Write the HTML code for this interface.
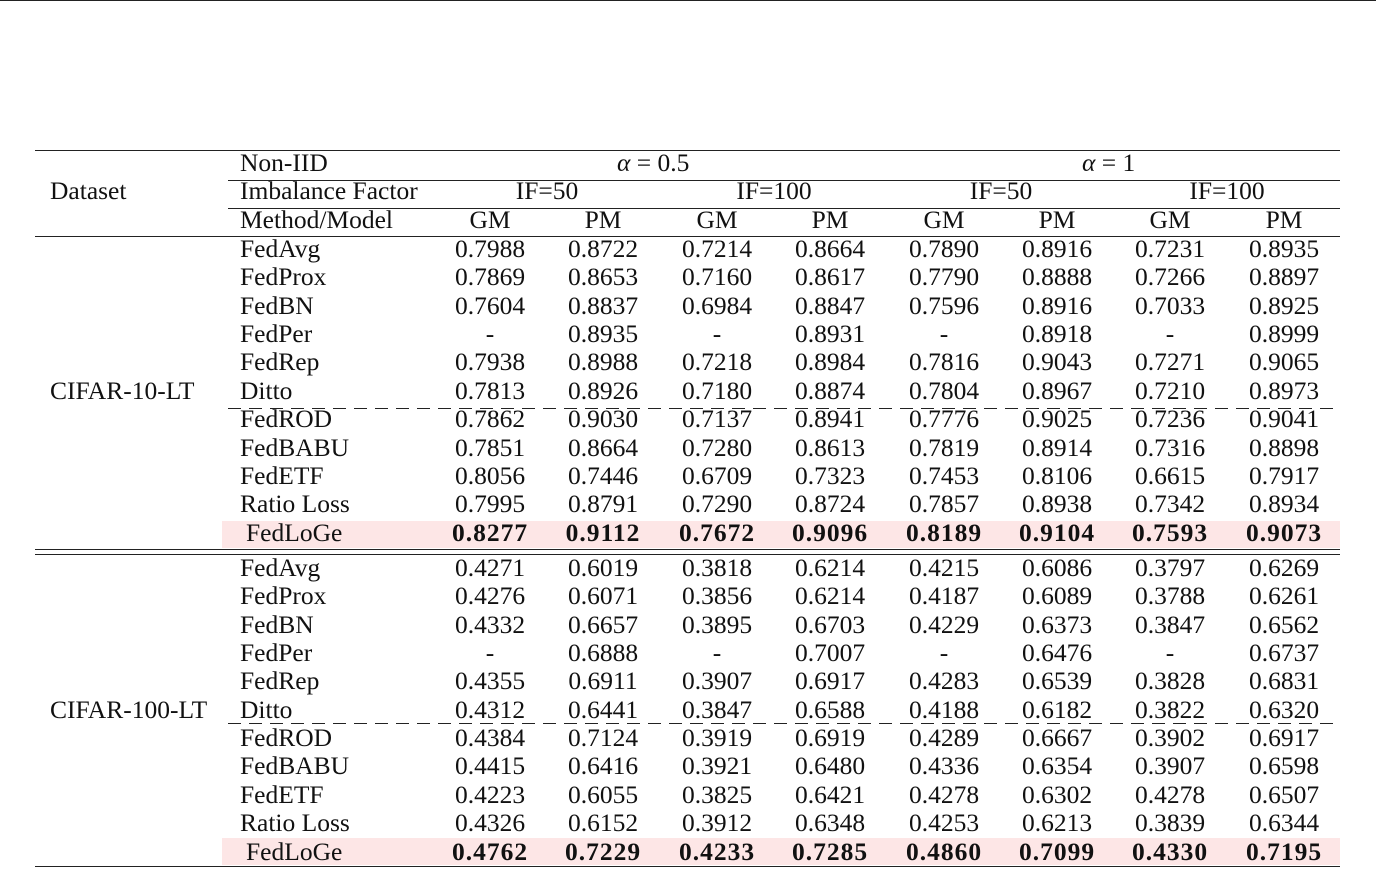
<!DOCTYPE html>
<html><head><meta charset="utf-8"><style>
body{margin:0;width:1376px;height:871px;background:#fff;position:relative;overflow:hidden;font-family:"Liberation Serif",serif;font-size:25.5px;color:#111}
.h{position:absolute;height:1.3px;background:#222}
.d{position:absolute;height:1.3px;background:repeating-linear-gradient(to right,#222 0 13px,transparent 13px 21px)}
.r{position:absolute;left:0;height:28px;line-height:28px;width:1376px;white-space:nowrap}
.r span{position:absolute;top:0}
.m{left:240px}
.c{width:114px;text-align:center}
.b .c{font-weight:bold;letter-spacing:1px}
.pink{position:absolute;background:#fde6e6}
</style></head><body>
<div class="h" style="left:0;top:0;width:1376px"></div>
<div class="pink" style="left:222px;top:521px;width:1118px;height:27px"></div>
<div class="pink" style="left:222px;top:838px;width:1118px;height:27px"></div>
<div class="h" style="left:35px;top:150px;width:1305px"></div>
<div class="h" style="left:228px;top:180px;width:1112px"></div>
<div class="h" style="left:228px;top:208px;width:1112px"></div>
<div class="h" style="left:35px;top:236px;width:1305px"></div>
<div class="d" style="left:228px;top:408px;width:1112px"></div>
<div class="h" style="left:35px;top:549px;width:1305px"></div>
<div class="h" style="left:35px;top:554px;width:1305px"></div>
<div class="d" style="left:228px;top:723px;width:1112px"></div>
<div class="h" style="left:35px;top:866px;width:1305px"></div>

<div class="r" style="top:149px"><span class="m">Non-IID</span><span style="left:617px"><i>α</i> = 0.5</span><span style="left:1082px"><i>α</i> = 1</span></div>
<div class="r" style="top:177px"><span style="left:50px">Dataset</span><span class="m">Imbalance Factor</span><span class="c" style="left:490px">IF=50</span><span class="c" style="left:717px">IF=100</span><span class="c" style="left:944px">IF=50</span><span class="c" style="left:1170px">IF=100</span></div>
<div class="r" style="top:206px"><span class="m">Method/Model</span>
<span class="c" style="left:433px">GM</span><span class="c" style="left:546px">PM</span><span class="c" style="left:660px">GM</span><span class="c" style="left:773px">PM</span><span class="c" style="left:887px">GM</span><span class="c" style="left:1000px">PM</span><span class="c" style="left:1113px">GM</span><span class="c" style="left:1227px">PM</span></div>

<div class="r" style="top:377px"><span style="left:50px">CIFAR-10-LT</span></div>
<div class="r" style="top:696px"><span style="left:50px">CIFAR-100-LT</span></div>

<div class="r" style="top:235px"><span class="m">FedAvg</span><span class="c" style="left:433px">0.7988</span><span class="c" style="left:546px">0.8722</span><span class="c" style="left:660px">0.7214</span><span class="c" style="left:773px">0.8664</span><span class="c" style="left:887px">0.7890</span><span class="c" style="left:1000px">0.8916</span><span class="c" style="left:1113px">0.7231</span><span class="c" style="left:1227px">0.8935</span></div>
<div class="r" style="top:263px"><span class="m">FedProx</span><span class="c" style="left:433px">0.7869</span><span class="c" style="left:546px">0.8653</span><span class="c" style="left:660px">0.7160</span><span class="c" style="left:773px">0.8617</span><span class="c" style="left:887px">0.7790</span><span class="c" style="left:1000px">0.8888</span><span class="c" style="left:1113px">0.7266</span><span class="c" style="left:1227px">0.8897</span></div>
<div class="r" style="top:292px"><span class="m">FedBN</span><span class="c" style="left:433px">0.7604</span><span class="c" style="left:546px">0.8837</span><span class="c" style="left:660px">0.6984</span><span class="c" style="left:773px">0.8847</span><span class="c" style="left:887px">0.7596</span><span class="c" style="left:1000px">0.8916</span><span class="c" style="left:1113px">0.7033</span><span class="c" style="left:1227px">0.8925</span></div>
<div class="r" style="top:320px"><span class="m">FedPer</span><span class="c" style="left:433px">-</span><span class="c" style="left:546px">0.8935</span><span class="c" style="left:660px">-</span><span class="c" style="left:773px">0.8931</span><span class="c" style="left:887px">-</span><span class="c" style="left:1000px">0.8918</span><span class="c" style="left:1113px">-</span><span class="c" style="left:1227px">0.8999</span></div>
<div class="r" style="top:348px"><span class="m">FedRep</span><span class="c" style="left:433px">0.7938</span><span class="c" style="left:546px">0.8988</span><span class="c" style="left:660px">0.7218</span><span class="c" style="left:773px">0.8984</span><span class="c" style="left:887px">0.7816</span><span class="c" style="left:1000px">0.9043</span><span class="c" style="left:1113px">0.7271</span><span class="c" style="left:1227px">0.9065</span></div>
<div class="r" style="top:377px"><span class="m">Ditto</span><span class="c" style="left:433px">0.7813</span><span class="c" style="left:546px">0.8926</span><span class="c" style="left:660px">0.7180</span><span class="c" style="left:773px">0.8874</span><span class="c" style="left:887px">0.7804</span><span class="c" style="left:1000px">0.8967</span><span class="c" style="left:1113px">0.7210</span><span class="c" style="left:1227px">0.8973</span></div>
<div class="r" style="top:405px"><span class="m">FedROD</span><span class="c" style="left:433px">0.7862</span><span class="c" style="left:546px">0.9030</span><span class="c" style="left:660px">0.7137</span><span class="c" style="left:773px">0.8941</span><span class="c" style="left:887px">0.7776</span><span class="c" style="left:1000px">0.9025</span><span class="c" style="left:1113px">0.7236</span><span class="c" style="left:1227px">0.9041</span></div>
<div class="r" style="top:434px"><span class="m">FedBABU</span><span class="c" style="left:433px">0.7851</span><span class="c" style="left:546px">0.8664</span><span class="c" style="left:660px">0.7280</span><span class="c" style="left:773px">0.8613</span><span class="c" style="left:887px">0.7819</span><span class="c" style="left:1000px">0.8914</span><span class="c" style="left:1113px">0.7316</span><span class="c" style="left:1227px">0.8898</span></div>
<div class="r" style="top:462px"><span class="m">FedETF</span><span class="c" style="left:433px">0.8056</span><span class="c" style="left:546px">0.7446</span><span class="c" style="left:660px">0.6709</span><span class="c" style="left:773px">0.7323</span><span class="c" style="left:887px">0.7453</span><span class="c" style="left:1000px">0.8106</span><span class="c" style="left:1113px">0.6615</span><span class="c" style="left:1227px">0.7917</span></div>
<div class="r" style="top:490px"><span class="m">Ratio Loss</span><span class="c" style="left:433px">0.7995</span><span class="c" style="left:546px">0.8791</span><span class="c" style="left:660px">0.7290</span><span class="c" style="left:773px">0.8724</span><span class="c" style="left:887px">0.7857</span><span class="c" style="left:1000px">0.8938</span><span class="c" style="left:1113px">0.7342</span><span class="c" style="left:1227px">0.8934</span></div>
<div class="r b" style="top:519px"><span class="m" style="left:246px">FedLoGe</span><span class="c" style="left:433px">0.8277</span><span class="c" style="left:546px">0.9112</span><span class="c" style="left:660px">0.7672</span><span class="c" style="left:773px">0.9096</span><span class="c" style="left:887px">0.8189</span><span class="c" style="left:1000px">0.9104</span><span class="c" style="left:1113px">0.7593</span><span class="c" style="left:1227px">0.9073</span></div>

<div class="r" style="top:554px"><span class="m">FedAvg</span><span class="c" style="left:433px">0.4271</span><span class="c" style="left:546px">0.6019</span><span class="c" style="left:660px">0.3818</span><span class="c" style="left:773px">0.6214</span><span class="c" style="left:887px">0.4215</span><span class="c" style="left:1000px">0.6086</span><span class="c" style="left:1113px">0.3797</span><span class="c" style="left:1227px">0.6269</span></div>
<div class="r" style="top:582px"><span class="m">FedProx</span><span class="c" style="left:433px">0.4276</span><span class="c" style="left:546px">0.6071</span><span class="c" style="left:660px">0.3856</span><span class="c" style="left:773px">0.6214</span><span class="c" style="left:887px">0.4187</span><span class="c" style="left:1000px">0.6089</span><span class="c" style="left:1113px">0.3788</span><span class="c" style="left:1227px">0.6261</span></div>
<div class="r" style="top:611px"><span class="m">FedBN</span><span class="c" style="left:433px">0.4332</span><span class="c" style="left:546px">0.6657</span><span class="c" style="left:660px">0.3895</span><span class="c" style="left:773px">0.6703</span><span class="c" style="left:887px">0.4229</span><span class="c" style="left:1000px">0.6373</span><span class="c" style="left:1113px">0.3847</span><span class="c" style="left:1227px">0.6562</span></div>
<div class="r" style="top:639px"><span class="m">FedPer</span><span class="c" style="left:433px">-</span><span class="c" style="left:546px">0.6888</span><span class="c" style="left:660px">-</span><span class="c" style="left:773px">0.7007</span><span class="c" style="left:887px">-</span><span class="c" style="left:1000px">0.6476</span><span class="c" style="left:1113px">-</span><span class="c" style="left:1227px">0.6737</span></div>
<div class="r" style="top:667px"><span class="m">FedRep</span><span class="c" style="left:433px">0.4355</span><span class="c" style="left:546px">0.6911</span><span class="c" style="left:660px">0.3907</span><span class="c" style="left:773px">0.6917</span><span class="c" style="left:887px">0.4283</span><span class="c" style="left:1000px">0.6539</span><span class="c" style="left:1113px">0.3828</span><span class="c" style="left:1227px">0.6831</span></div>
<div class="r" style="top:696px"><span class="m">Ditto</span><span class="c" style="left:433px">0.4312</span><span class="c" style="left:546px">0.6441</span><span class="c" style="left:660px">0.3847</span><span class="c" style="left:773px">0.6588</span><span class="c" style="left:887px">0.4188</span><span class="c" style="left:1000px">0.6182</span><span class="c" style="left:1113px">0.3822</span><span class="c" style="left:1227px">0.6320</span></div>
<div class="r" style="top:724px"><span class="m">FedROD</span><span class="c" style="left:433px">0.4384</span><span class="c" style="left:546px">0.7124</span><span class="c" style="left:660px">0.3919</span><span class="c" style="left:773px">0.6919</span><span class="c" style="left:887px">0.4289</span><span class="c" style="left:1000px">0.6667</span><span class="c" style="left:1113px">0.3902</span><span class="c" style="left:1227px">0.6917</span></div>
<div class="r" style="top:752px"><span class="m">FedBABU</span><span class="c" style="left:433px">0.4415</span><span class="c" style="left:546px">0.6416</span><span class="c" style="left:660px">0.3921</span><span class="c" style="left:773px">0.6480</span><span class="c" style="left:887px">0.4336</span><span class="c" style="left:1000px">0.6354</span><span class="c" style="left:1113px">0.3907</span><span class="c" style="left:1227px">0.6598</span></div>
<div class="r" style="top:781px"><span class="m">FedETF</span><span class="c" style="left:433px">0.4223</span><span class="c" style="left:546px">0.6055</span><span class="c" style="left:660px">0.3825</span><span class="c" style="left:773px">0.6421</span><span class="c" style="left:887px">0.4278</span><span class="c" style="left:1000px">0.6302</span><span class="c" style="left:1113px">0.4278</span><span class="c" style="left:1227px">0.6507</span></div>
<div class="r" style="top:809px"><span class="m">Ratio Loss</span><span class="c" style="left:433px">0.4326</span><span class="c" style="left:546px">0.6152</span><span class="c" style="left:660px">0.3912</span><span class="c" style="left:773px">0.6348</span><span class="c" style="left:887px">0.4253</span><span class="c" style="left:1000px">0.6213</span><span class="c" style="left:1113px">0.3839</span><span class="c" style="left:1227px">0.6344</span></div>
<div class="r b" style="top:838px"><span class="m" style="left:246px">FedLoGe</span><span class="c" style="left:433px">0.4762</span><span class="c" style="left:546px">0.7229</span><span class="c" style="left:660px">0.4233</span><span class="c" style="left:773px">0.7285</span><span class="c" style="left:887px">0.4860</span><span class="c" style="left:1000px">0.7099</span><span class="c" style="left:1113px">0.4330</span><span class="c" style="left:1227px">0.7195</span></div>
</body></html>
